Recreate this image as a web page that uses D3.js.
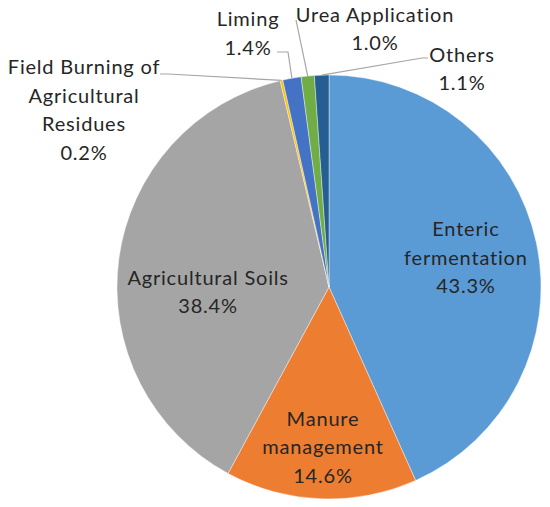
<!DOCTYPE html>
<html>
<head>
<meta charset="utf-8">
<style>
  body { margin: 0; background: #fff; }
  svg { display: block; }
  .lbl { font-family: Lato, "Open Sans", sans-serif; font-size: 20px; letter-spacing: 0.8px; fill: #262626; }
  .leader { fill: none; stroke: #a6a6a6; stroke-width: 1.2; }
</style>
</head>
<body>
<script src="https://cdn.jsdelivr.net/npm/d3@7"></script>
<script>

// Data
var categories = ["Enteric fermentation", "Manure management", "Agricultural Soils",
                  "Field Burning of Agricultural Residues", "Liming", "Urea Application", "Others"];
var shares = [43.3, 14.6, 38.4, 0.2, 1.4, 1.0, 1.1];
var labelLines = [
  ["Enteric", "fermentation"],
  ["Manure", "management"],
  ["Agricultural Soils"],
  ["Field Burning of", "Agricultural", "Residues"],
  ["Liming"],
  ["Urea Application"],
  ["Others"]
];
var colors = ["#5b9bd5", "#ed7d31", "#a5a5a5", "#ffc000", "#4472c4", "#70ad47", "#255e91"];

// Layout
var width = 550, height = 507;
var cx = 329, cy = 287, radius = 212;
var lineH = 28.5;

// inside labels: radius along mid-angle plus a nudge; outside: block centre + leader start
var labelLayout = [
  {inside: true, r: 140, dx: 0, dy: 0},
  {inside: true, r: 160, dx: 0, dy: 0},
  {inside: true, r: 122, dx: 0, dy: 21},
  {inside: false, x: 84,  y: 110, leader: [[160, 74], [168, 74]]},
  {inside: false, x: 248, y: 33.5, leader: [[277, 52], [288, 52]]},
  {inside: false, x: 375, y: 29, leader: [[296, 20]]},
  {inside: false, x: 462, y: 69, leader: [[428, 58], [422, 58]]}
];

var svg = d3.select("body").append("svg")
    .attr("width", width)
    .attr("height", height);

var g = svg.append("g")
    .attr("transform", `translate(${cx},${cy})`);

var pie = d3.pie().sort(null).value(d => d);
var arcs = pie(shares);

var arc = d3.arc().innerRadius(0).outerRadius(radius);

g.selectAll("path.slice")
  .data(arcs)
  .enter().append("path")
    .attr("class", "slice")
    .attr("d", arc)
    .attr("fill", (d, i) => colors[i])
    .attr("stroke", "#fff")
    .attr("stroke-width", 0.4);

function midPoint(d, r) {
  var a = (d.startAngle + d.endAngle) / 2;
  return [r * Math.sin(a), -r * Math.cos(a)];
}

// leader lines for the thin slices
arcs.forEach(function(d, i) {
  var L = labelLayout[i];
  if (L.inside) return;
  var end = midPoint(d, radius);
  var pts = L.leader.map(p => [p[0] - cx, p[1] - cy]).concat([end]);
  g.append("path")
    .attr("class", "leader")
    .attr("d", d3.line()(pts));
});

// labels
arcs.forEach(function(d, i) {
  var L = labelLayout[i];
  var lines = labelLines[i].concat([shares[i].toFixed(1) + "%"]);
  var x, y;
  if (L.inside) {
    var p = midPoint(d, L.r);
    x = p[0] + L.dx; y = p[1] + L.dy;
  } else {
    x = L.x - cx; y = L.y - cy;
  }
  var top = y - (lines.length - 1) * lineH / 2;
  var t = g.append("text")
    .attr("class", "lbl")
    .attr("text-anchor", "middle");
  lines.forEach(function(s, k) {
    t.append("tspan")
      .attr("x", x)
      .attr("y", top + k * lineH)
      .attr("dy", "0.36em")
      .text(s);
  });
});

</script>
</body>
</html>
